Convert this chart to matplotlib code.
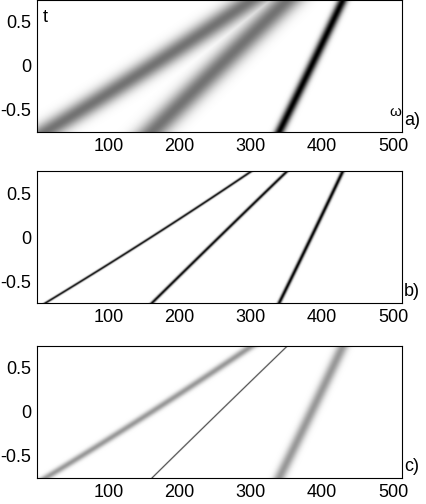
import numpy as np
import matplotlib.pyplot as plt

plt.rcParams['font.family'] = ['Liberation Sans', 'DejaVu Sans']

# ridge positions (omega) of the three components at t = -0.75, 0, 0.75
t_knots = [-0.75, 0.0, 0.75]
ridge1 = [12, 160, 300]
ridge2 = [161, 255, 350]
ridge3 = [339, 384, 428]

# per panel: (width in omega units, peak darkness) for each ridge
panel_a = [(18, 0.55), (16, 0.55), (5, 1.0)]
panel_b = [(2.0, 1.0), (2.0, 1.0), (2.0, 1.0)]
panel_c = [(6, 0.4), (0.7, 1.0), (6, 0.4)]
panel_labels = ['a)', 'b)', 'c)']

omega = np.linspace(0, 512, 900)
t = np.linspace(-0.75, 0.75, 300)
W, T = np.meshgrid(omega, t)

def ridge_curve(vals):
    c = np.polyfit(t_knots, vals, 2)
    return np.polyval(c, t)[:, None]

def render(spec):
    img = np.zeros_like(W)
    for vals, (w, a) in zip([ridge1, ridge2, ridge3], spec):
        img = np.maximum(img, a * np.exp(-0.5 * ((W - ridge_curve(vals)) / w) ** 2))
    return img

fig = plt.figure(figsize=(4.26, 5.04), dpi=100)
bottoms = [132, 303, 478]
for spec, lab, b in zip([panel_a, panel_b, panel_c], panel_labels, bottoms):
    ax = fig.add_axes([37 / 426, 1 - b / 504, 365 / 426, 132 / 504])
    ax.imshow(render(spec), cmap='gray_r', vmin=0, vmax=1, origin='lower',
              extent=[0, 512, -0.75, 0.75], aspect='auto', interpolation='bilinear')
    ax.set_xlim(0, 512)
    ax.set_ylim(-0.75, 0.75)
    ax.set_xticks([100, 200, 300, 400, 500])
    ax.set_yticks([-0.5, 0, 0.5])
    ax.set_yticklabels(['-0.5', '0', '0.5'])
    ax.tick_params(length=0, labelsize=13, pad=4)
    ax.text(1.005, 0.02, lab, transform=ax.transAxes, fontsize=13, va='bottom')
    if lab == 'a)':
        ax.text(0.015, 0.83, 't', transform=ax.transAxes, fontsize=13)
        ax.text(0.965, 0.12, 'ω', transform=ax.transAxes, fontsize=11)

fig.savefig('out.png', dpi=100)
